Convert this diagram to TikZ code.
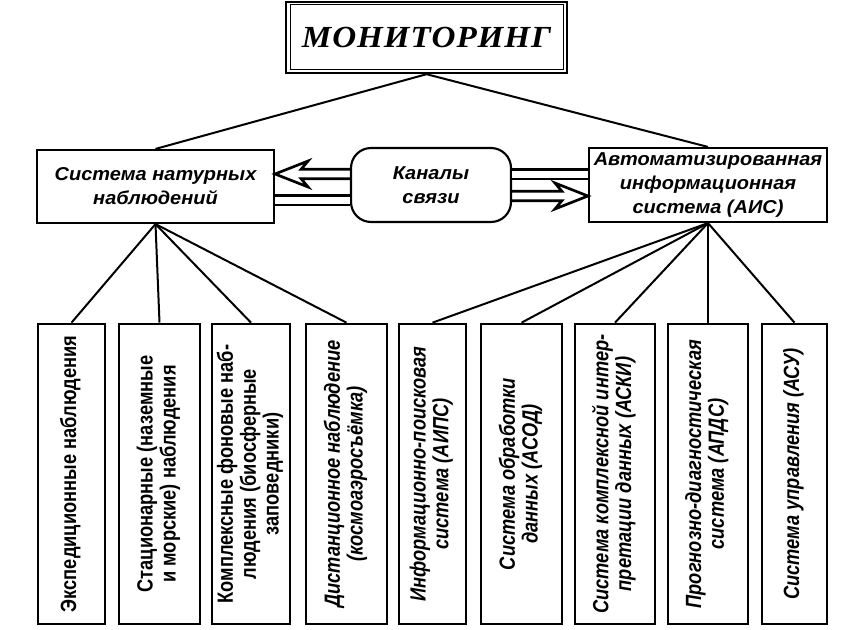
\documentclass[tikz,border=0pt]{standalone}
\usepackage{fontspec}
\setmainfont{Liberation Sans}
\newfontfamily\hfont[FakeStretch=1.07]{Liberation Sans}
\newfontfamily\vfont[FakeStretch=0.83]{Liberation Sans}
\newfontfamily\tfont[FakeStretch=1.08,LetterSpace=3]{Liberation Serif}
\usetikzlibrary{arrows.meta,calc}
\begin{document}
\begin{tikzpicture}[x=0.75pt,y=-0.75pt,
  box/.style={draw, line width=1.6pt, inner sep=0pt, align=center,
    font=\hfont\bfseries\itshape\fontsize{14}{18}\selectfont},
  vbox/.style={draw, line width=2pt, inner sep=0pt, minimum height=225pt},
  vup/.style={font=\vfont\bfseries\fontsize{16.5}{17}\selectfont},
  vit/.style={font=\vfont\bfseries\itshape\fontsize{16.5}{17}\selectfont},
  conn/.style={line width=1.5pt},
  dbl/.style={line width=2pt, double, double distance=5pt},
  head/.style={line width=2pt, line join=miter, line cap=butt}
]
\useasboundingbox (0,0) rectangle (841,630);
\fill[white] (0,0) rectangle (841,630);

\node[box, line width=1.8pt, minimum width=210.75pt, minimum height=53.25pt,
  font=\tfont\bfseries\itshape\fontsize{23}{26}\selectfont] (title) at (426.5,37.5) {МОНИТОРИНГ};
\draw[line width=0.9pt] ($(title.north west)+(6,4)$) rectangle ($(title.south east)+(-5,-5)$);

\node[box, minimum width=177.75pt, minimum height=54.75pt] (ls) at (155.5,186.5) {Система натурных\\наблюдений};
\node[box, rounded corners=15pt, minimum width=120pt, minimum height=55.5pt] (ch) at (431,185) {Каналы\\связи};
\node[box, minimum width=178.5pt, minimum height=55.5pt] (rs) at (708,185) {Автоматизированная\\информационная\\система (АИС)};

\node[vbox, vup, minimum width=50.25pt] (b1) at (71.5,474) {\rotatebox{90}{\begin{tabular}{@{}c@{}}Экспедиционные наблюдения\end{tabular}}};
\node[vbox, vup, minimum width=60.75pt] (b2) at (159.5,474) {\rotatebox{90}{\begin{tabular}{@{}c@{}}Стационарные (наземные\\и морские) наблюдения\end{tabular}}};
\node[vbox, vup, minimum width=58.5pt] (b3) at (251,474) {\rotatebox{90}{\begin{tabular}{@{}c@{}}Комплексные фоновые наб-\\людения (биосферные\\заповедники)\end{tabular}}};
\node[vbox, vit, minimum width=60.75pt] (b4) at (346.5,474) {\rotatebox{90}{\begin{tabular}{@{}c@{}}Дистанционное наблюдение\\(космоаэросъёмка)\end{tabular}}};
\node[vbox, vit, minimum width=50.25pt] (b5) at (432.5,474) {\rotatebox{90}{\begin{tabular}{@{}c@{}}Информационно-поисковая\\система (АИПС)\end{tabular}}};
\node[vbox, vit, minimum width=60.75pt] (b6) at (521.5,474) {\rotatebox{90}{\begin{tabular}{@{}c@{}}Система обработки\\данных (АСОД)\end{tabular}}};
\node[vbox, vit, minimum width=60pt] (b7) at (615,474) {\rotatebox{90}{\begin{tabular}{@{}c@{}}Система комплексной интер-\\претации данных (АСКИ)\end{tabular}}};
\node[vbox, vit, minimum width=60pt] (b8) at (708,474) {\rotatebox{90}{\begin{tabular}{@{}c@{}}Прогнозно-диагностическая\\система (АПДС)\end{tabular}}};
\node[vbox, vit, minimum width=48.75pt] (b9) at (794.5,474) {\rotatebox{90}{\begin{tabular}{@{}c@{}}Система управления (АСУ)\end{tabular}}};

\draw[conn] (title.south) -- (ls.north);
\draw[conn] (title.south) -- (rs.north);
\foreach \b in {b1,b2,b3,b4} \draw[conn] (ls.south) -- (\b.north);
\foreach \b in {b5,b6,b7,b8,b9} \draw[conn] (rs.south) -- (\b.north);

% hollow arrow from the channels to the left box
\coordinate (a1) at ($(ch.west)+(0,-11)$);
\coordinate (t1) at (ls.east |- a1);
\draw[head] ($(a1)+(0,-4.7)$) -- ($(t1)+(26,-4.7)$) -- ($(t1)+(33,-13)$) -- (t1)
  -- ($(t1)+(33,13)$) -- ($(t1)+(26,4.7)$) -- ($(a1)+(0,4.7)$);

% plain double lines
\coordinate (a2) at ($(ls.east)+(0,14)$);
\draw[dbl] (a2) -- (ch.west |- a2);
\coordinate (a3) at ($(ch.east)+(0,-10.5)$);
\draw[dbl] (a3) -- (rs.west |- a3);

% hollow arrow from the channels to the right box
\coordinate (a4) at ($(ch.east)+(0,11)$);
\coordinate (t4) at (rs.west |- a4);
\draw[head] ($(a4)+(0,-4.7)$) -- ($(t4)+(-26,-4.7)$) -- ($(t4)+(-33,-13)$) -- (t4)
  -- ($(t4)+(-33,13)$) -- ($(t4)+(-26,4.7)$) -- ($(a4)+(0,4.7)$);
\end{tikzpicture}
\end{document}
